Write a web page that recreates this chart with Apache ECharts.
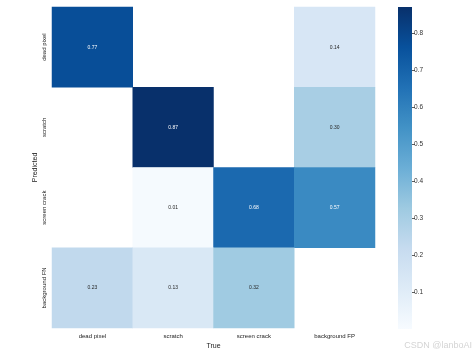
<!DOCTYPE html>
<html>
<head>
<meta charset="utf-8">
<script src="https://cdn.jsdelivr.net/npm/echarts@6/dist/echarts.min.js"></script>
<style>
html,body{margin:0;padding:0;background:#fff;}
#chart{width:474px;height:355px;}
</style>
</head>
<body>
<div id="chart"></div>
<script>
// Categories (True on x, Predicted on y)
const categories = ['dead pixel', 'scratch', 'screen crack', 'background FP'];
const predictedLabels = ['dead pixel', 'scratch', 'screen crack', 'background FN'];
// Rows = Predicted, columns = True (null = blank cell)
const rowDeadPixel = [0.77, null, null, 0.14];
const rowScratch = [null, 0.87, null, 0.30];
const rowScreenCrack = [null, 0.01, 0.68, 0.57];
const rowBackgroundFN = [0.23, 0.13, 0.32, null];
const colorbarTicks = [0.1, 0.2, 0.3, 0.4, 0.5, 0.6, 0.7, 0.8];
const vMin = 0, vMax = 0.87;

const blues = ['#f7fbff','#deebf7','#c6dbef','#9ecae1','#6baed6','#4292c6','#2171b5','#08519c','#08306b'];
const rows = [rowDeadPixel, rowScratch, rowScreenCrack, rowBackgroundFN];
const heatData = [];
rows.forEach((r, yi) => r.forEach((v, xi) => {
  if (v !== null) heatData.push({value: [xi, yi, v], label: {color: v > 0.5 ? '#ffffff' : '#262626'}});
}));

const font = 'Liberation Sans, Arial, sans-serif';
const chart = echarts.init(document.getElementById('chart'), null, {renderer: 'canvas'});
chart.setOption({
  animation: false,
  backgroundColor: '#fff',
  grid: [
    {left: 52, top: 7, width: 323, height: 322},
    {left: 398, top: 7, width: 14, height: 322}
  ],
  xAxis: [
    {type: 'category', gridIndex: 0, data: categories, name: 'True', nameLocation: 'middle', nameGap: 15,
     nameMoveOverlap: false,
     nameTextStyle: {fontSize: 7, color: '#222', fontFamily: font},
     axisLine: {show: false}, axisTick: {show: false}, splitLine: {show: false},
     axisLabel: {fontSize: 6, color: '#222', margin: 5, fontFamily: font}},
    {type: 'category', gridIndex: 1, data: ['c'], show: false}
  ],
  yAxis: [
    {type: 'category', gridIndex: 0, data: predictedLabels, inverse: true, name: 'Predicted', nameLocation: 'middle', nameGap: 13,
     nameMoveOverlap: false,
     nameRotate: 90, nameTextStyle: {fontSize: 7, color: '#222', fontFamily: font},
     axisLine: {show: false}, axisTick: {show: false}, splitLine: {show: false},
     axisLabel: {fontSize: 6, color: '#222', rotate: 90, margin: 5, fontFamily: font}},
    {type: 'value', gridIndex: 1, min: vMin, max: vMax, position: 'right',
     axisLine: {show: false}, splitLine: {show: false},
     axisTick: {show: true, length: 3, lineStyle: {color: '#333', width: 0.8}, customValues: colorbarTicks},
     axisLabel: {fontSize: 6.5, color: '#333', margin: 2, fontFamily: font, customValues: colorbarTicks,
       formatter: v => v.toFixed(1)}}
  ],
  visualMap: {show: false, min: vMin, max: vMax, seriesIndex: 0, dimension: 2, inRange: {color: blues}},
  series: [
    {type: 'heatmap', xAxisIndex: 0, yAxisIndex: 0, data: heatData,
     label: {show: true, fontSize: 5, fontFamily: font, formatter: p => p.value[2].toFixed(2)},
     itemStyle: {borderWidth: 0}},
    {type: 'bar', xAxisIndex: 1, yAxisIndex: 1, data: [vMax], barWidth: '100%',
     itemStyle: {color: new echarts.graphic.LinearGradient(0, 1, 0, 0,
       blues.map((c, i) => ({offset: i / (blues.length - 1), color: c})))}}
  ],
  graphic: [
    {type: 'text', right: 2, top: 341, style: {text: 'CSDN @lanboAI', fontSize: 9, fill: '#d4d4d4', fontFamily: font}}
  ]
});
</script>
</body>
</html>
